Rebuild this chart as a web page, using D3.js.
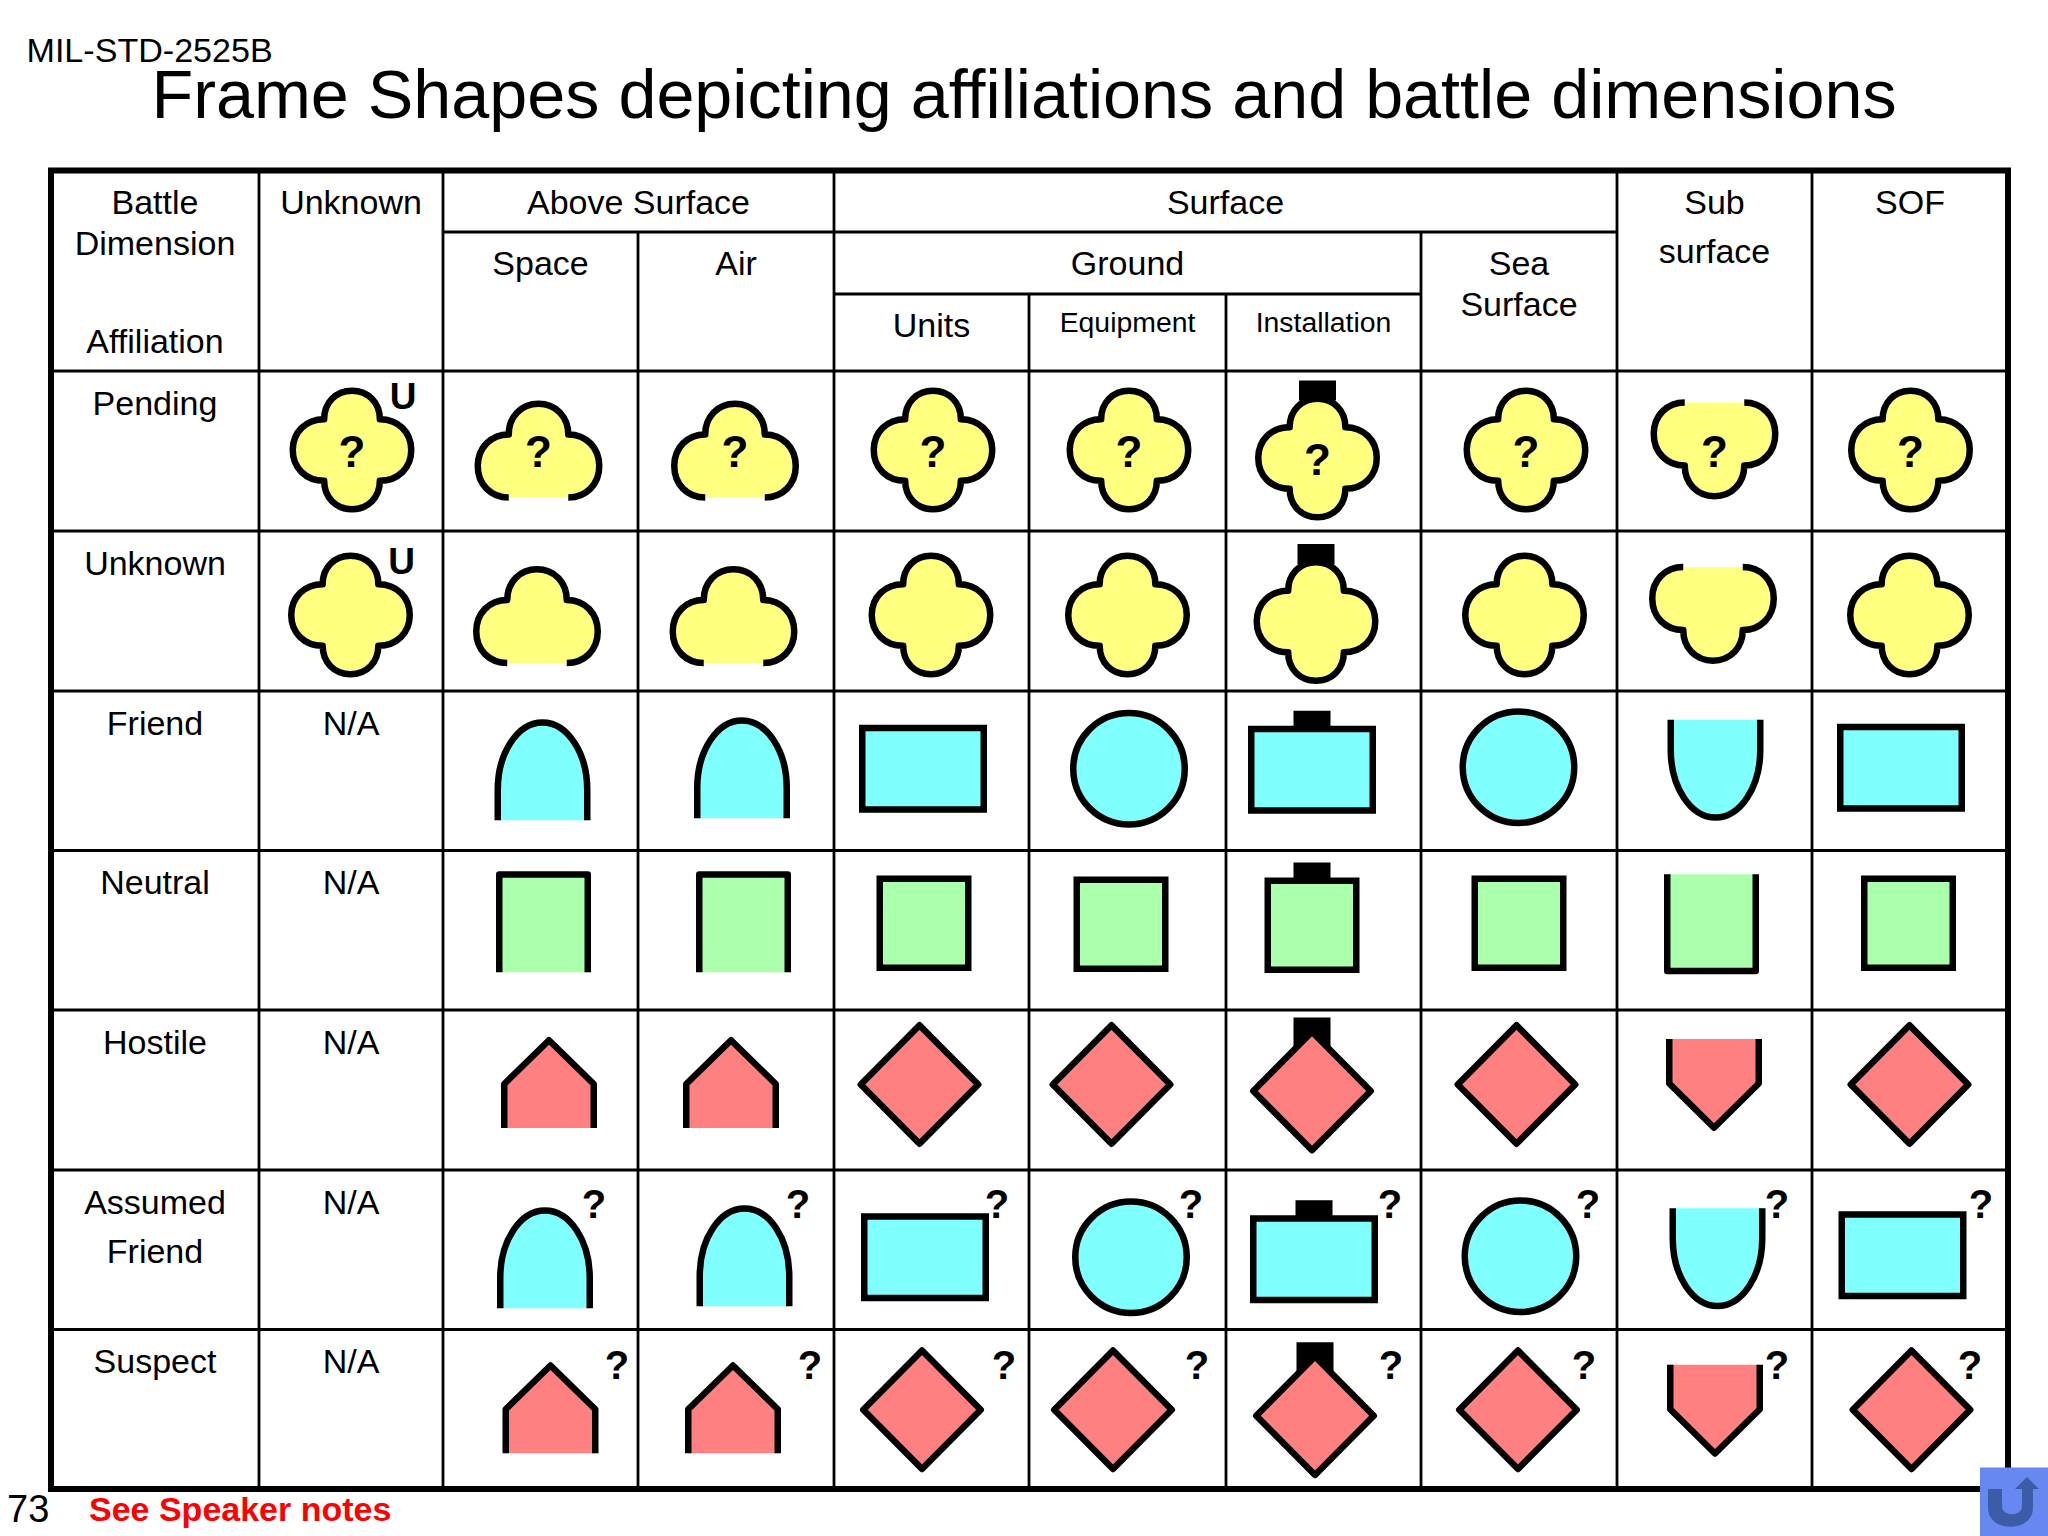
<!DOCTYPE html>
<html><head><meta charset="utf-8">
<script src="https://cdn.jsdelivr.net/npm/d3@7/dist/d3.min.js"></script>
<style>html,body{margin:0;background:#fff}svg{display:block}text{font-family:"Liberation Sans",Arial,sans-serif;fill:#000}</style>
</head><body><svg id="c" width="2048" height="1536"></svg>
<script>
// ---- content ----
const pageTitle = "Frame Shapes depicting affiliations and battle dimensions";
const standardName = "MIL-STD-2525B";
const slideNumber = "73";
const noteText = "See Speaker notes";
const affiliations = ["Pending","Unknown","Friend","Neutral","Hostile","Assumed|Friend","Suspect"];
const dimensions = ["Unknown","Space","Air","Units","Equipment","Installation","Sea Surface","Subsurface","SOF"];
const frames = [
 ["clover","cloudUp","cloudUp","clover","clover","clover","clover","cloudDown","clover"],
 ["clover","cloudUp","cloudUp","clover","clover","clover","clover","cloudDown","clover"],
 [null,"domeUp","domeUp","rect","circle","rect","circle","domeDown","rect"],
 [null,"squareUp","squareUp","square","square","square","square","squareDown","square"],
 [null,"pentUp","pentUp","diamond","diamond","diamond","diamond","pentDown","diamond"],
 [null,"domeUp","domeUp","rect","circle","rect","circle","domeDown","rect"],
 [null,"pentUp","pentUp","diamond","diamond","diamond","diamond","pentDown","diamond"]
];
const rowFill = ["#FFFF80","#FFFF80","#80FFFF","#AAFFAA","#FF8080","#80FFFF","#FF8080"];
// ---- layout ----
const colEdges = [51,259,443,638,834,1029,1226,1421,1617,1812,2008];
const rowEdges = [371,531,691,850.5,1010,1170,1329.5,1489];
const headY = [170.5,232,294,371];
const frameSize = {clover:[125,125],cloudUp:[128,99],cloudDown:[128,99],domeUp:[96,101],domeDown:[96,101],
 rect:[128,88],circle:[118,118],squareUp:[95,101],squareDown:[95,100],square:[95,95.5],pentUp:[96,91],pentDown:[96,92],diamond:[124,125]};
const nudgeX = [
 [1,-2,-1,1.5,1.5,-6,7,0,0.5],
 [-0.5,-3.5,-2.5,-0.5,0,-7.5,5.5,-1.5,-0.5],
 [0,2,6,-8.5,1.5,-11.5,-0.5,1,-9],
 [0,3,7.5,-7.5,-6.5,-11.5,0,-3,-1.5],
 [0,8.5,-5,-12,-16,-11.5,-2.5,-0.5,-0.5],
 [0,4.5,8.5,-6.5,3.5,-9.5,1.5,3,-7.5],
 [0,10,-3,-9.5,-14.5,-8.5,-1,0.5,1.5]];
const nudgeY = [
 [-1,-1,-1,-1,-1,7,-1,-1,-1],
 [4,4.5,4.5,4,4,10.5,4,3.5,4],
 [0,-1,-3,-2,-2,-1,-3.5,-0.5,-3],
 [0,-8.5,-8.5,-7,-6,-5,-7,-6,-7],
 [0,-7.5,-7.5,-5.5,-5.5,1,-5.5,-5,-5.5],
 [0,8,6,7.5,7.5,9.5,6.5,9,5.5],
 [0,-1.5,-1.5,0.5,0.5,6.5,0.5,1.5,0.5]];
const assumedMarkX = [
 [0,53.5,62,65.5,63.5,66.5,69,62.5,71],
 [0,76.5,74,72.5,69.5,67.5,65,62.5,60]];
const SW = 6.5, LABEL = 34;

const svg = d3.select("#c");
const cx = d3.scaleLinear().domain(d3.range(colEdges.length)).range(colEdges);
const ry = d3.scaleLinear().domain(d3.range(rowEdges.length)).range(rowEdges);
const colMid = i => (cx(i+1)+cx(i+2))/2;   // dimension column i
const rowMid = i => (ry(i)+ry(i+1))/2;

function text(t,x,y,size,o={}){
  return svg.append("text").attr("x",x).attr("y",y).attr("font-size",size)
    .attr("text-anchor",o.anchor||"middle").attr("font-weight",o.bold?"bold":null)
    .style("fill",o.fill||null).text(t);
}
// page text
text(pageTitle,151.5,118,68.3,{anchor:"start"});
text(standardName,26.5,62,34.1,{anchor:"start"});
text(slideNumber,7,1522,38,{anchor:"start"});
text(noteText,89,1521,34,{anchor:"start",bold:true,fill:"#FF0000"});

// grid
const grid = svg.append("g").attr("stroke","#000").attr("stroke-width",2.8);
const ln = (x1,y1,x2,y2)=>grid.append("line").attr("x1",x1).attr("y1",y1).attr("x2",x2).attr("y2",y2);
ry.domain().forEach(i=>ln(cx(0),ry(i),cx(10),ry(i)));
ln(cx(2),headY[1],cx(8),headY[1]);
ln(cx(4),headY[2],cx(7),headY[2]);
[[1,0],[2,0],[3,1],[4,0],[5,2],[6,2],[7,1],[8,0],[9,0]].forEach(([c,h])=>ln(cx(c),headY[h],cx(c),ry(7)));
svg.append("rect").attr("x",cx(0)).attr("y",headY[0]).attr("width",cx(10)-cx(0)).attr("height",ry(7)-headY[0])
  .attr("fill","none").attr("stroke","#000").attr("stroke-width",6);

// header text
const headText = [
 ["Battle",0,214,LABEL],["Dimension",0,255,LABEL],["Affiliation",0,353.2,LABEL],
 ["Unknown",1,214,LABEL],["Above Surface",[2,4],214,LABEL],["Surface",[4,8],214,LABEL],
 ["Space",2,275,LABEL],["Air",3,275,LABEL],["Ground",[4,7],275,LABEL],["Sea",7,275,LABEL],["Surface",7,316,LABEL],
 ["Units",4,336.5,LABEL],["Equipment",5,331.5,28.4],["Installation",6,331.5,28.4],
 ["Sub",8,214,LABEL],["surface",8,263,LABEL],["SOF",9,214,LABEL]];
headText.forEach(([t,c,y,s])=>{
  const [a,b]=Array.isArray(c)?c:[c,c+1];
  text(t,(cx(a)+cx(b))/2,y,s);
});
// row labels
affiliations.forEach((a,r)=>{
  const top=ry(r);
  a.split("|").forEach((t,k)=>text(t,(cx(0)+cx(1))/2,top+43.7+k*49.5,LABEL));
  if(r>=2) text("N/A",(cx(1)+cx(2))/2,top+43.7,LABEL);
});

// frame shape geometry (W,H outer box, centred)
const K=0.5523;
function ellipseArc(p,x0,y0,x1,y1,cxx,cyy){
  if(Math.abs(x0-cxx)<1e-6){
    p.bezierCurveTo(x0+(x1-cxx)*K,y0,x1,y1+(y0-cyy)*K,x1,y1);
  } else {
    p.bezierCurveTo(x0,y0+(y1-cyy)*K,x1+(x0-cxx)*K,y1,x1,y1);
  }
}
function outline(type,W,H){
  const hw=W/2-SW/2, hh=H/2-SW/2, p=d3.path();
  switch(type){
    case "rect": case "square":
      p.rect(-hw,-hh,2*hw,2*hh); break;
    case "circle":
      p.arc(0,0,hw,0,2*Math.PI); p.closePath(); break;
    case "diamond":
      p.moveTo(0,-hh);p.lineTo(hw,0);p.lineTo(0,hh);p.lineTo(-hw,0);p.closePath(); break;
    case "squareUp":
      p.moveTo(-hw,H/2);p.lineTo(-hw,-hh);p.lineTo(hw,-hh);p.lineTo(hw,H/2);break;
    case "squareDown":
      p.moveTo(-hw,-H/2);p.lineTo(-hw,hh);p.lineTo(hw,hh);p.lineTo(hw,-H/2);break;
    case "pentUp":{
      const s=-H/2+H*0.516;
      p.moveTo(-hw,H/2);p.lineTo(-hw,s);p.lineTo(0,-hh);p.lineTo(hw,s);p.lineTo(hw,H/2);break;}
    case "pentDown":{
      const s=H/2-H*0.516;
      p.moveTo(-hw,-H/2);p.lineTo(-hw,s);p.lineTo(0,hh);p.lineTo(hw,s);p.lineTo(hw,-H/2);break;}
    case "domeUp":{
      const s=H/2-H*0.30;
      p.moveTo(-hw,H/2);p.lineTo(-hw,s);
      ellipseArc(p,-hw,s,0,-hh,0,s);ellipseArc(p,0,-hh,hw,s,0,s);p.lineTo(hw,H/2);break;}
    case "domeDown":{
      const s=-H/2+H*0.30;
      p.moveTo(-hw,-H/2);p.lineTo(-hw,s);
      ellipseArc(p,-hw,s,0,hh,0,s);ellipseArc(p,0,hh,hw,s,0,s);p.lineTo(hw,-H/2);break;}
    case "clover":{
      const a=hw*0.47,b=hh*0.52,k=0.58;
      const ty=b+(hh-b)*k, sx=a+(hw-a)*k;
      p.moveTo(-a,-b);
      p.bezierCurveTo(-a,-ty,-a*k,-hh,0,-hh);p.bezierCurveTo(a*k,-hh,a,-ty,a,-b);
      p.bezierCurveTo(sx,-b,hw,-b*k,hw,0);p.bezierCurveTo(hw,b*k,sx,b,a,b);
      p.bezierCurveTo(a,ty,a*k,hh,0,hh);p.bezierCurveTo(-a*k,hh,-a,ty,-a,b);
      p.bezierCurveTo(-sx,b,-hw,b*k,-hw,0);p.bezierCurveTo(-hw,-b*k,-sx,-b,-a,-b);
      p.closePath();break;}
    case "cloudUp": case "cloudDown":{
      const sg=type==="cloudUp"?1:-1, k=0.58;
      const Y=y=>sg*y, top=-hh, base=H/2-2, j=-hh+H*0.31, side=-hh+H*0.63, a=hw*0.49;
      const sx=a+(hw-a)*k;
      p.moveTo(-a,Y(base));
      p.bezierCurveTo(-sx,Y(base),-hw,Y(side+(base-side)*k),-hw,Y(side));
      p.bezierCurveTo(-hw,Y(side-(side-j)*k),-sx,Y(j),-a,Y(j));
      p.bezierCurveTo(-a,Y(j-(j-top)*k),-a*k,Y(top),0,Y(top));
      p.bezierCurveTo(a*k,Y(top),a,Y(j-(j-top)*k),a,Y(j));
      p.bezierCurveTo(sx,Y(j),hw,Y(side-(side-j)*k),hw,Y(side));
      p.bezierCurveTo(hw,Y(side+(base-side)*k),sx,Y(base),a,Y(base));
      break;}
  }
  return p.toString();
}

// frames
const cells=[];
frames.forEach((row,r)=>row.forEach((type,c)=>{ if(type) cells.push({r,c,type}); }));
const g=svg.append("g");
cells.forEach(d=>{
  const [W,H]=frameSize[d.type];
  const x=colMid(d.c)+nudgeX[d.r][d.c], y=rowMid(d.r)+nudgeY[d.r][d.c];
  const cell=g.append("g").attr("transform",`translate(${x},${y})`);
  if(dimensions[d.c]==="Installation"){
    const pointed=d.type==="diamond";
    cell.append("rect").attr("x",-18.5).attr("width",37)
      .attr("y",-H/2-(pointed?11:15)).attr("height",pointed?31:20).attr("fill","#000");
  }
  const o=outline(d.type,W,H);
  cell.append("path").attr("d",o).attr("fill",rowFill[d.r]).attr("stroke","none");
  cell.append("path").attr("d",o).attr("fill","none").attr("stroke","#000").attr("stroke-width",SW)
    .attr("stroke-linejoin",(d.type==="rect"||d.type==="square")?"miter":"round").attr("stroke-linecap","butt");
  // pending "?"
  if(d.r===0) cell.append("text").attr("y",17).attr("text-anchor","middle").attr("font-size",44).attr("font-weight","bold").text("?");
});
// affiliation uncertainty marks
text("U",403,408.5,37,{bold:true});
text("U",401.7,573.7,37,{bold:true});
assumedMarkX.forEach((xs,k)=>xs.forEach((dx,c)=>{
  if(c>0) text("?",colMid(c)+dx,k===0?1218:1379,40,{bold:true});
}));

// return button
const btn=svg.append("g");
btn.append("rect").attr("x",1980).attr("y",1467.5).attr("width",68).attr("height",68.5).attr("fill","#6688F0");
const arrow=d3.path();
arrow.moveTo(1988,1489);arrow.lineTo(2002,1489);arrow.lineTo(2002,1506);
arrow.bezierCurveTo(2002,1517,2022,1517,2022,1506);
arrow.lineTo(2022,1489);arrow.lineTo(2015,1489);arrow.lineTo(2027,1477);arrow.lineTo(2039,1489);arrow.lineTo(2033,1489);
arrow.lineTo(2033,1508);arrow.bezierCurveTo(2033,1533,1988,1533,1988,1508);arrow.closePath();
btn.append("path").attr("d",arrow.toString()).attr("fill","#3C5CA8");
</script></body></html>
